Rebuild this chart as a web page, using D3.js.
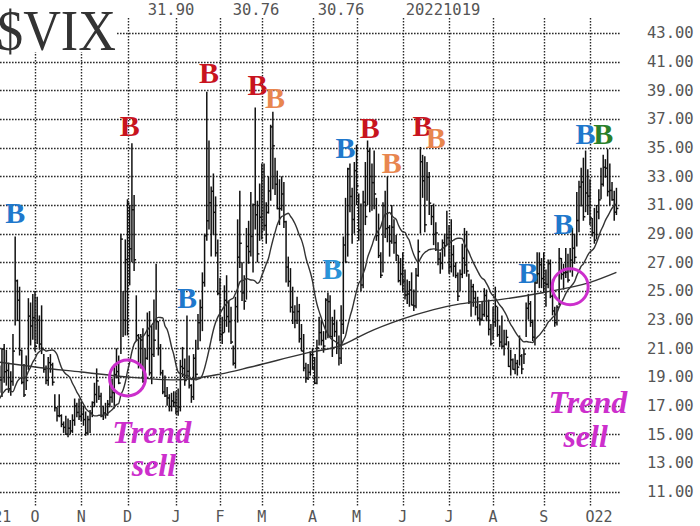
<!DOCTYPE html>
<html><head><meta charset="utf-8">
<script src="https://cdn.jsdelivr.net/npm/d3@7"></script>
<style>body{margin:0;background:#fff}svg{display:block}</style>
</head><body>
<svg id="c" width="700" height="526"></svg>
<script>
// ---------------- DATA ----------------
const dataStart = "2021-09-08";
const holidays = ["2021-09-06","2021-11-25","2021-12-24","2022-01-17","2022-02-21","2022-04-15","2022-05-30","2022-06-20","2022-07-04","2022-09-05"];
// closes Aug 10 2021 .. Sep 7 2021 (for the 20-day average)
const priorCloses = [16.79,16.06,15.59,15.45,16.12,17.91,21.57,21.67,18.56,17.15,17.22,16.79,18.84,16.39,16.15,16.48,16.11,16.41,16.41,18.00];

const highs = [
 19.6,19.8,21.0,21.3,20.9,20.0,19.4,22.0,28.8,25.8,25.3,20.9,19.9,20.5,24.5,24.2,24.8,
 25.0,24.6,23.3,24.0,20.6,19.8,20.4,20.6,20.0,17.8,16.9,17.8,16.4,15.9,16.3,16.1,16.0,16.4,17.5,17.2,17.5,
 17.3,17.0,16.6,16.3,16.7,17.3,18.6,19.6,18.4,17.9,17.0,17.2,17.4,18.7,18.9,19.8,21.0,20.5,29.0,25.0,28.6,
 31.4,31.0,35.3,31.7,24.7,22.0,22.0,22.4,21.0,23.5,23.6,22.6,24.4,26.9,22.9,21.3,19.5,19.1,18.3,17.8,17.9,18.0,
 18.0,18.2,20.2,21.1,20.3,23.3,20.5,18.5,20.6,21.6,23.4,24.4,26.3,29.0,38.9,35.5,32.3,33.2,31.6,28.6,
 25.9,23.2,25.4,26.1,24.3,23.9,21.2,24.6,30.0,32.0,27.0,26.1,29.4,29.9,31.9,31.1,37.8,31.3,32.5,
 33.9,33.9,31.2,33.0,36.6,37.5,34.3,33.4,32.8,33.0,32.6,29.9,27.4,26.6,25.3,24.0,24.6,24.1,22.7,22.0,20.0,19.9,20.8,
 21.0,20.4,21.6,23.2,23.0,22.2,24.5,24.9,24.7,23.2,23.7,22.9,21.9,24.0,28.8,31.5,33.6,33.9,32.2,34.0,
 35.2,31.8,31.1,32.0,34.0,35.5,35.0,33.9,34.8,31.5,30.4,27.7,31.2,32.0,33.0,29.6,31.0,30.0,28.9,27.5,27.3,
 27.7,26.5,25.8,25.7,26.3,25.1,26.6,28.6,35.05,34.5,34.4,34.0,33.3,31.0,31.1,29.8,28.4,27.7,28.6,29.0,30.6,
 29.6,30.0,28.2,27.0,26.3,26.5,28.3,29.4,29.2,26.2,25.8,25.5,25.0,24.6,24.1,24.3,25.2,25.1,24.4,22.7,
 23.9,25.3,23.9,22.6,23.3,22.3,22.3,21.5,20.9,20.3,20.6,20.2,21.9,20.6,21.0,24.2,24.8,24.3,23.0,25.8,27.7,27.7,27.3,
 27.7,26.5,27.2,27.2,25.8,23.9,24.0,28.0,27.3,26.9,28.0,27.6,28.0,29.4,29.0,31.9,32.7,33.6,34.3,34.8,33.5,
 32.8,30.1,30.8,31.0,32.1,33.6,34.5,34.2,34.9,33.9,32.6,32.0,32.2];

const lows = [
 18.0,17.9,17.6,18.6,18.4,17.9,17.7,18.4,22.6,22.9,20.5,18.5,17.6,18.1,19.5,21.2,21.6,
 20.8,21.3,20.9,20.6,19.3,18.5,18.4,19.3,18.4,16.6,15.9,16.2,15.5,15.1,14.95,14.8,15.0,15.1,15.6,16.2,16.0,
 15.9,15.6,14.9,15.0,15.1,16.2,16.9,17.2,17.4,16.2,16.0,16.1,16.3,16.9,17.2,16.8,18.9,18.5,20.6,21.8,21.9,
 21.9,25.4,27.0,26.4,21.5,19.6,19.6,18.6,18.7,20.2,19.1,18.5,20.4,22.3,20.5,19.1,17.8,17.6,17.0,16.6,16.6,16.9,
 16.4,16.3,16.6,19.0,18.4,18.9,18.2,17.2,17.4,19.0,20.9,21.5,22.2,25.3,28.5,29.3,27.4,28.9,27.4,24.7,
 21.5,21.3,22.1,22.5,22.1,21.3,19.8,19.6,22.8,26.6,24.3,23.7,24.4,26.9,27.4,26.3,29.3,27.0,28.5,
 28.6,29.2,28.3,30.4,31.3,32.1,31.7,30.7,29.6,30.6,29.4,25.6,25.3,23.5,22.7,22.4,22.7,21.4,20.8,19.4,18.6,18.8,19.1,
 19.5,18.5,18.5,21.2,21.2,20.7,21.6,21.7,21.8,20.4,21.8,20.6,19.8,19.9,22.0,27.0,27.4,30.5,28.3,29.0,
 31.0,28.5,25.0,25.2,29.6,31.0,30.5,30.6,30.7,28.5,27.3,25.9,26.3,28.7,28.4,27.4,28.3,27.6,27.1,25.6,25.4,
 24.9,24.4,24.1,23.9,24.0,23.6,23.8,26.0,29.0,31.5,29.1,31.3,30.3,29.6,28.2,27.8,26.8,26.2,26.5,27.4,28.2,
 26.2,26.3,26.0,25.9,24.3,25.0,25.9,26.2,26.0,24.1,23.2,23.9,23.3,22.9,22.6,22.9,23.2,22.9,21.9,21.2,
 21.6,22.5,21.8,21.1,21.0,20.5,21.2,19.7,19.1,19.5,19.2,19.1,19.8,19.2,19.9,21.8,23.0,22.5,21.5,21.2,25.5,25.2,25.2,
 24.9,23.9,25.2,24.5,23.3,22.5,22.6,24.0,25.8,25.1,25.9,25.6,26.3,26.0,26.9,28.1,29.1,30.9,29.9,30.5,30.3,
 29.6,28.8,28.3,28.6,30.0,31.4,32.3,32.9,31.6,31.0,31.3,29.9,30.3];

const closes = [
 18.80,18.79,20.95,19.37,19.46,18.18,18.69,20.81,25.71,24.36,20.87,18.63,17.75,18.76,23.25,22.56,23.14,
 21.15,22.96,21.30,21.00,19.54,18.77,20.00,19.85,18.64,16.86,16.30,16.30,15.70,15.49,15.01,15.43,15.24,15.98,16.98,16.53,16.26,
 16.41,16.03,15.10,16.03,16.48,17.22,17.78,18.73,17.66,16.29,16.49,16.37,17.11,17.59,17.91,19.17,19.38,18.58,28.62,22.96,27.19,
 31.12,27.95,30.67,27.18,21.89,19.90,21.58,18.69,20.31,21.89,19.29,20.57,21.57,22.87,21.01,19.29,17.96,17.68,17.54,16.95,17.33,17.22,
 16.60,16.91,19.73,19.61,18.76,19.40,18.41,17.62,20.31,19.19,22.79,23.85,25.59,28.85,29.90,31.16,31.96,30.49,27.66,24.83,
 21.96,22.09,24.35,23.22,22.86,21.44,19.96,23.91,27.36,28.33,24.87,24.29,28.11,27.75,28.81,31.02,30.32,27.59,30.15,
 33.32,29.57,30.48,31.98,36.45,35.13,32.45,30.75,30.75,31.77,29.83,26.67,25.67,23.87,23.53,22.94,23.57,21.67,20.81,19.63,18.90,19.33,20.56,
 19.63,18.57,21.03,22.10,21.55,21.16,24.37,24.26,21.82,22.70,22.17,21.37,20.32,22.68,28.21,27.02,33.52,31.60,29.99,33.40,
 32.34,29.25,25.42,31.20,30.19,34.75,32.99,32.56,31.77,28.87,27.47,26.10,30.96,29.35,29.43,28.48,29.45,28.37,27.50,25.72,26.19,
 25.69,24.72,24.79,25.07,24.02,23.96,26.09,27.75,34.02,32.69,29.62,32.95,31.13,30.19,28.95,29.05,27.23,26.95,28.36,28.16,28.71,
 26.70,27.54,26.73,26.08,24.64,26.17,27.29,26.82,26.40,24.23,25.30,24.50,23.88,23.11,23.03,23.36,24.69,23.24,22.33,21.33,
 22.84,23.93,21.95,21.44,21.15,21.29,21.77,19.74,20.20,19.53,19.95,19.69,20.47,19.56,20.60,23.80,24.11,22.82,21.78,25.56,26.21,26.83,25.87,
 25.56,25.47,26.91,24.64,23.61,22.79,23.87,27.27,26.16,26.27,26.30,25.76,27.16,27.99,27.35,29.92,32.26,32.60,30.18,31.84,31.62,
 30.10,29.07,28.55,30.52,31.36,32.45,33.63,33.57,31.94,32.02,31.37,30.50,30.76];

// 200-day average
const ma200Dates  = ["2021-09-08","2021-10-01","2021-11-01","2021-12-01","2022-01-03","2022-02-01","2022-02-22","2022-03-30","2022-04-21","2022-05-09","2022-05-31","2022-06-22","2022-07-11","2022-08-04","2022-09-01","2022-10-03","2022-10-19"];
const ma200Values = [20.05,19.7,19.35,19.0,18.8,19.2,19.7,20.7,21.2,22.1,23.0,23.7,24.1,24.4,24.9,25.6,26.3];

const yTicks = [11,13,15,17,19,21,23,25,27,29,31,33,35,37,39,41,43];
const monthLabels = ["S21","O","N","D","J","F","M","A","M","J","J","A","S","O22"];
const headerLabels = ["31.90","30.76","30.76","20221019"];

const signalDates  = ["2021-09-20","2021-12-02","2022-01-10","2022-01-25","2022-02-25","2022-03-09","2022-04-25","2022-05-10","2022-05-24","2022-04-14","2022-06-14","2022-06-23","2022-08-23","2022-09-15","2022-09-29","2022-10-11"];
const signalLevels = [30.5,36.6,24.6,40.3,39.4,38.5,35.0,36.4,34.0,26.6,36.6,35.7,26.3,29.75,36.0,36.0];
const signalColors = ["blue","red","blue","red","red","orange","blue","red","orange","lightblue","red","orange","blue","blue","blue","green"];

const trendDates  = ["2021-12-01","2022-09-20"];
const trendLevels = [18.94,25.3];
const trendTextDates = [["2021-12-16","2021-12-17"],["2022-09-30","2022-09-29"]];
const trendTextLevels = [[14.4,12.1],[16.5,14.13]];

// ---------------- BUILD ----------------
const hol = new Set(holidays);
const fmt = d3.timeFormat("%Y-%m-%d");
const tradingDays = [];
for (let d = new Date(2021,8,1); d <= new Date(2022,9,19); d.setDate(d.getDate()+1)) {
  const wd = d.getDay(), s = fmt(d);
  if (wd===0 || wd===6 || hol.has(s)) continue;
  tradingDays.push(s);
}
const idxOf = s => tradingDays.indexOf(s);
const offset = idxOf(dataStart);
const bars = closes.map((c,k)=>({i:k+offset, h:highs[k], l:lows[k], c}));

const allC = priorCloses.concat(closes);
const ma20 = closes.map((c,k)=>{
  const j = k + priorCloses.length;
  return {i:k+offset, v:d3.mean(allC.slice(j-19, j+1))};
});
const ma200 = ma200Dates.map((d,k)=>({i:idxOf(d), v:ma200Values[k]}));

const monthTicks = [];
tradingDays.forEach((d,i)=>{ if (i===0 || d.slice(0,7)!==tradingDays[i-1].slice(0,7)) monthTicks.push(i); });

const svg = d3.select("#c");
const x = d3.scaleLinear().domain([idxOf("2021-10-01"), idxOf("2022-10-03")]).range([35,590]);
const y = d3.scaleLinear().domain([11,43]).range([491.7,33]);
const plotL = 0, plotR = 619, plotT = 18, plotB = 505;

svg.append("rect").attr("width",700).attr("height",526).attr("fill","#fff");
svg.append("defs").append("clipPath").attr("id","clip")
  .append("rect").attr("x",plotL).attr("y",plotT).attr("width",plotR-plotL).attr("height",plotB-plotT);

// dotted grid built from short segments
const dotStep = 3, dotLen = 1.6;
function hDots(yy){ let s=""; for(let xx=plotL; xx<plotR; xx+=dotStep) s+=`M${xx},${yy}h${dotLen}`; return s; }
function vDots(xx){ let s=""; for(let yy=plotT; yy<plotB; yy+=dotStep) s+=`M${xx},${yy}v${dotLen}`; return s; }
const grid = svg.append("g").attr("fill","none").attr("stroke","#2a2a2a").attr("stroke-width",1.4);
grid.append("g").selectAll("path").data(yTicks).join("path")
  .attr("d",d=>hDots(Math.round(y(d))+0.5));
grid.append("g").selectAll("path").data(monthTicks.filter(i=>x(i)>0)).join("path")
  .attr("d",d=>vDots(Math.round(x(d))+0.5));

// right axis labels
svg.append("g").selectAll("text").data(yTicks).join("text")
  .attr("x",647).attr("y",d=>y(d)).attr("dy","0.35em")
  .attr("font-family","DejaVu Sans Mono").attr("font-size",15.5).attr("fill","#555")
  .text(d=>d.toFixed(2));

// bottom month labels (first char centred on the month line)
svg.append("g").selectAll("text").data(monthTicks).join("text")
  .attr("x",d=>x(d)-4.5).attr("y",517).attr("dy","0.35em")
  .attr("font-family","DejaVu Sans Mono").attr("font-size",15).attr("fill","#555")
  .text((d,k)=>monthLabels[k]);

// header values
const headerX = [171,256,341,443];
svg.append("g").selectAll("text").data(headerLabels).join("text")
  .attr("x",(d,k)=>headerX[k]).attr("y",10).attr("dy","0.35em").attr("text-anchor","middle")
  .attr("font-family","DejaVu Sans Mono").attr("font-size",15.5).attr("fill","#555")
  .text(d=>d);

// title
svg.append("rect").attr("x",0).attr("y",0).attr("width",116).attr("height",52).attr("fill","#fff");
svg.append("text").attr("x",-3).attr("y",50)
  .attr("font-family","Liberation Serif, serif").attr("font-size",58).attr("fill","#333")
  .attr("textLength",119).attr("lengthAdjust","spacingAndGlyphs")
  .text("$VIX");

const plot = svg.append("g").attr("clip-path","url(#clip)");

// price bars
const bg = plot.append("g").attr("stroke","#111").attr("stroke-width",1.5);
bg.append("g").selectAll("line").data(bars).join("line")
  .attr("x1",d=>x(d.i)).attr("x2",d=>x(d.i)).attr("y1",d=>y(d.h)).attr("y2",d=>y(d.l));
bg.append("g").selectAll("line").data(bars).join("line")
  .attr("x1",d=>x(d.i)).attr("x2",d=>x(d.i)+2).attr("y1",d=>y(d.c)).attr("y2",d=>y(d.c));

// moving averages
const line = d3.line().x(d=>x(d.i)).y(d=>y(d.v)).curve(d3.curveMonotoneX);
plot.append("path").datum(ma20).attr("d",line).attr("fill","none").attr("stroke","#333").attr("stroke-width",1.4);
plot.append("path").datum(ma200).attr("d",line).attr("fill","none").attr("stroke","#333").attr("stroke-width",1.4);

// buy signals
const colorMap = {blue:"#1f78cc", red:"#c8141e", orange:"#e8864f", green:"#2a7f2a", lightblue:"#2a93d8"};
svg.append("g").selectAll("text").data(signalDates).join("text")
  .attr("x",d=>x(idxOf(d))).attr("y",(d,k)=>y(signalLevels[k])).attr("dy","0.36em")
  .attr("text-anchor","middle")
  .attr("font-family","Liberation Serif, serif").attr("font-weight","bold").attr("font-size",30)
  .attr("fill",(d,k)=>colorMap[signalColors[k]])
  .text("B");

// trend sell circles and text
const mag = "#cc2fcc";
svg.append("g").selectAll("circle").data(trendDates).join("circle")
  .attr("cx",d=>x(idxOf(d))).attr("cy",(d,k)=>y(trendLevels[k])).attr("r",18)
  .attr("fill","none").attr("stroke",mag).attr("stroke-width",3);
trendTextDates.forEach((pair,k)=>{
  ["Trend","sell"].forEach((t,m)=>{
    svg.append("text").attr("x",x(idxOf(pair[m]))).attr("y",y(trendTextLevels[k][m]))
      .attr("text-anchor","middle")
      .attr("font-family","Liberation Serif, serif").attr("font-weight","bold").attr("font-style","italic")
      .attr("font-size",32).attr("fill",mag).text(t);
  });
});
</script>
</body></html>
